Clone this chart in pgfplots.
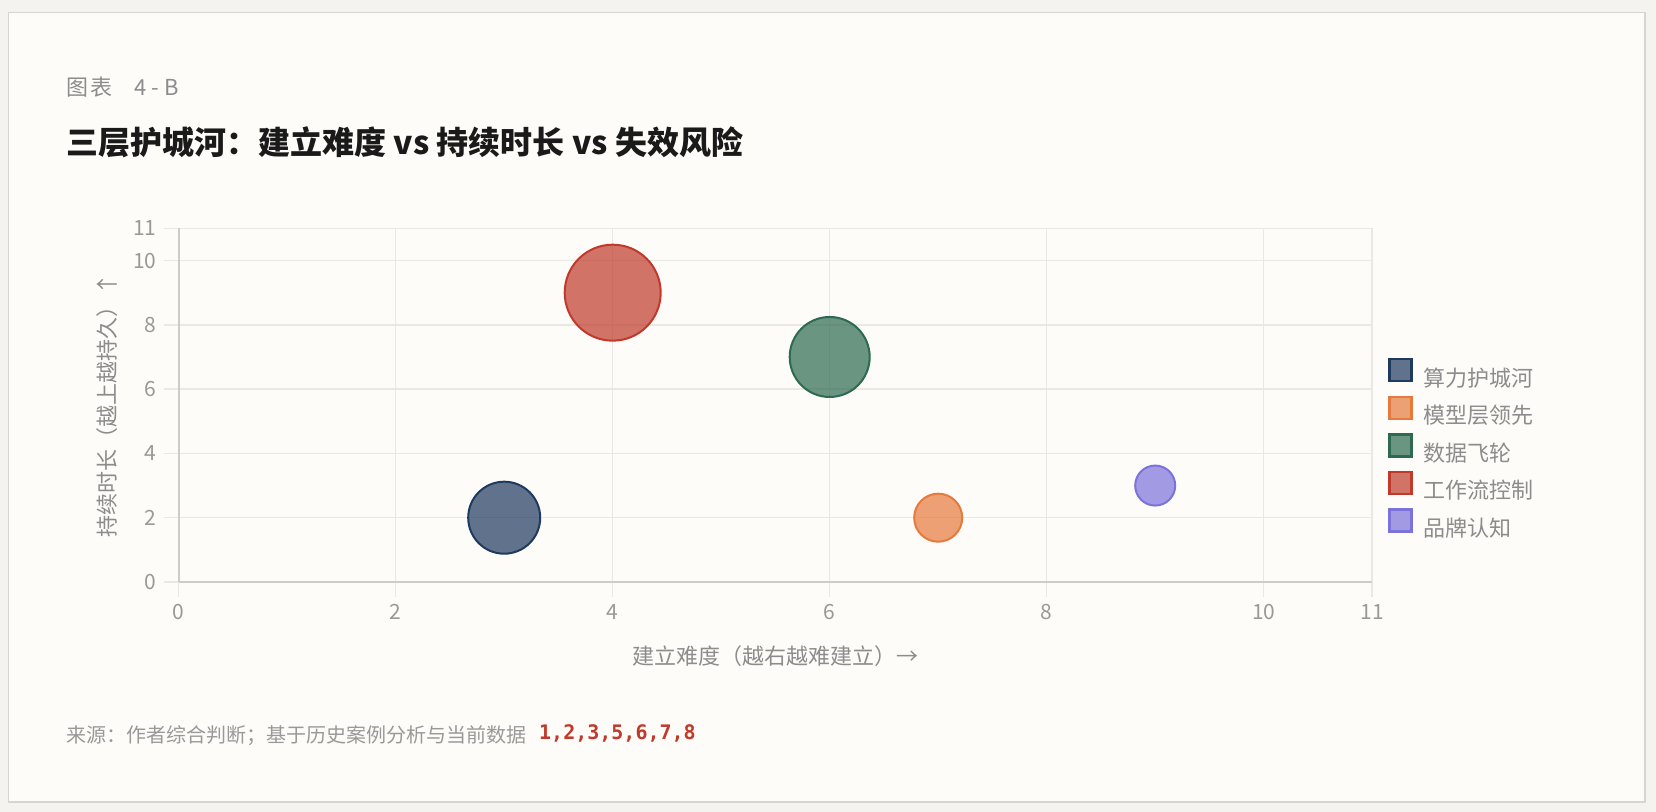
\documentclass[border=0pt]{standalone}
\usepackage{fontspec}
\setmainfont{Noto Sans CJK SC}
\newfontfamily\monofont{DejaVu Sans Mono}
\usepackage{pgfplots}
\pgfplotsset{compat=1.18}

\definecolor{pagebg}{HTML}{F4F3EF}
\definecolor{cardbg}{HTML}{FDFCF9}
\definecolor{cardline}{HTML}{D9D5CE}
\definecolor{gridc}{HTML}{EAE8E3}
\definecolor{axisc}{HTML}{CFCCC6}
\definecolor{tickc}{HTML}{999999}
\definecolor{labc}{HTML}{8C8C8C}
\definecolor{titlec}{HTML}{1A1A1A}
\definecolor{cNavy}{HTML}{1F3A5F}
\definecolor{cOrange}{HTML}{E67A3C}
\definecolor{cGreen}{HTML}{2D6A4F}
\definecolor{cRed}{HTML}{C0392B}
\definecolor{cPurple}{HTML}{7C72DC}

% one bubble series: x, y and radius r (pt)
\pgfplotsset{
  bub/.style={only marks, mark=*, draw=#1, fill=#1, fill opacity=0.7, line width=1pt,
    scatter, scatter/use mapped color={draw=#1, fill=#1},
    visualization depends on={\thisrow{r}\as\rr},
    scatter/@pre marker code/.append style={/tikz/mark size=\rr pt},
    legend image code/.code={\draw[draw=#1, fill=#1, fill opacity=0.7, line width=1.2pt]
      (0pt,-1.5pt) rectangle (11pt,9.5pt);}},
}

\begin{document}
\begin{tikzpicture}
\fill[pagebg] (0,0) rectangle (828pt,406pt);
\useasboundingbox (0,0) rectangle (828pt,406pt);
\filldraw[fill=cardbg, draw=cardline, line width=0.75pt] (4.25pt,5pt) rectangle (822.5pt,399.65pt);

\node[anchor=west, inner sep=0pt, font=\fontsize{11}{13}\selectfont, text=labc]
  at (33pt,362.2pt) {图\hspace{1pt}表\hspace{11pt}4\hspace{2.5pt}-\hspace{2.5pt}B};
\node[anchor=west, inner sep=0pt, font=\bfseries\fontsize{16}{19}\selectfont, text=titlec]
  at (33pt,334.7pt) {三层护城河：建立难度 vs 持续时长 vs 失效风险};

\begin{axis}[
  at={(89.35pt,115pt)}, anchor=south west,
  scale only axis, width=596.75pt, height=176.8pt,
  xmin=0, xmax=11, ymin=0, ymax=11,
  xtick={0,2,4,6,8,10,11}, ytick={0,2,4,6,8,10,11},
  axis x line*=bottom, axis y line*=left,
  axis line style={draw=axisc, line width=1pt, -},
  grid=major, major grid style={draw=gridc, line width=0.75pt},
  tick align=outside, major tick length=7.5pt,
  tick style={draw=gridc, line width=0.75pt},
  ticklabel style={font=\fontsize{10.5}{12}\selectfont, text=tickc},
  /pgf/number format/assume math mode=true,
  clip=false,
  xlabel={建立难度（越右越难建立）→},
  ylabel={持续时长（越上越持久）↑},
  every axis x label/.style={at={(axis description cs:0.5,-0.2093)}, anchor=center,
    font=\fontsize{11}{13}\selectfont, text=labc},
  every axis y label/.style={at={(axis description cs:-0.0603,0.5)}, rotate=90, anchor=center,
    font=\fontsize{11}{13}\selectfont, text=labc},
  legend cell align=left,
  legend style={draw=none, fill=none, at={(axis description cs:1.0132,0.377)}, anchor=west,
    inner sep=0pt, row sep=3.3pt, font=\fontsize{11}{13}\selectfont, text=labc,
    nodes={inner sep=0pt},
    /tikz/every odd column/.append style={column sep=5.3pt}},
]
\addplot[bub=cNavy] table[row sep=\\] {x y r\\ 3 2 18\\};
\addlegendentry{算力护城河}
\addplot[bub=cOrange] table[row sep=\\] {x y r\\ 7 2 12\\};
\addlegendentry{模型层领先}
\addplot[bub=cGreen] table[row sep=\\] {x y r\\ 6 7 20\\};
\addlegendentry{数据飞轮}
\addplot[bub=cRed] table[row sep=\\] {x y r\\ 4 9 24\\};
\addlegendentry{工作流控制}
\addplot[bub=cPurple] table[row sep=\\] {x y r\\ 9 3 10\\};
\addlegendentry{品牌认知}
\end{axis}

\node[anchor=west, inner sep=0pt, font=\fontsize{10}{12}\selectfont, text=tickc] (src)
  at (33pt,38pt) {来源：作者综合判断；基于历史案例分析与当前数据};
\node[anchor=base west, inner sep=0pt, font=\monofont\bfseries\fontsize{10}{12}\selectfont, text=cRed]
  at ([xshift=6pt,yshift=1.5pt]src.base east) {1,2,3,5,6,7,8};
\end{tikzpicture}
\end{document}
